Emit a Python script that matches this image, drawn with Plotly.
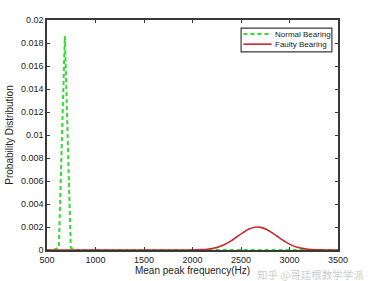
import plotly.graph_objects as go

# Sample grid (Hz) and probability densities
normal_x = [500, 561, 622, 684, 745, 806, 3500]
normal_y = [0, 0, 0.0002, 0.0186, 0.0002, 0, 0]

faulty_x = [500, 1908, 1969, 2031, 2092, 2153, 2214, 2276, 2337, 2398, 2459, 2520,
            2582, 2643, 2704, 2765, 2827, 2888, 2949, 3010, 3071, 3133, 3194, 3255,
            3316, 3378, 3439, 3500]
faulty_y = [0, 0.000001, 0.000004, 0.000012, 0.00003, 0.00007, 0.00015, 0.00029, 0.0005,
            0.00079, 0.00115, 0.00151, 0.00182, 0.00198, 0.00197, 0.00179, 0.00147,
            0.0011, 0.00076, 0.00047, 0.00027, 0.00014, 0.000065, 0.000028, 0.000011,
            0.000004, 0.000001, 0]

x_ticks = [500, 1000, 1500, 2000, 2500, 3000, 3500]
y_ticks = [0, 0.002, 0.004, 0.006, 0.008, 0.01, 0.012, 0.014, 0.016, 0.018, 0.02]
y_ticktext = ["0", "0.002", "0.004", "0.006", "0.008", "0.01", "0.012", "0.014", "0.016", "0.018", "0.02"]

series_names = ["Normal Bearing", "Faulty Bearing"]
green = "#2fdc2f"
red = "#c8282a"

font_family = "Liberation Sans, Arial, sans-serif"
frame = "#3a3a3a"
green_dash = "4px,3px"

fig = go.Figure()
fig.add_trace(go.Scatter(x=normal_x, y=normal_y, mode="lines", name=series_names[0],
                         line=dict(color=green, width=2, dash=green_dash)))
fig.add_trace(go.Scatter(x=faulty_x, y=faulty_y, mode="lines", name=series_names[1],
                         line=dict(color=red, width=1.6, shape="spline")))

axis_common = dict(showgrid=False, zeroline=False, showline=True, linecolor=frame, linewidth=1.5,
                   mirror="ticks", ticks="inside", ticklen=3, tickcolor=frame, tickwidth=1,
                   automargin=False,
                   tickfont=dict(family=font_family, size=9, color="#222"))

fig.update_xaxes(range=[500, 3500], tickvals=x_ticks,
                 title=dict(text="Mean peak frequency(Hz)", font=dict(family=font_family, size=10, color="#222"),
                            standoff=1),
                 **axis_common)
fig.update_yaxes(range=[0, 0.02], tickvals=y_ticks, ticktext=y_ticktext,
                 title=dict(text="Probability Distribution", font=dict(family=font_family, size=10, color="#222"),
                            standoff=5),
                 **axis_common)

# Manual compact legend (MATLAB style)
lx0, lx1, ly0, ly1 = 0.667, 0.979, 0.861, 0.965
shapes = [dict(type="rect", xref="paper", yref="paper", x0=lx0, x1=lx1, y0=ly0, y1=ly1,
               line=dict(color=frame, width=1.2), fillcolor="white", layer="above")]
rows = [(0.939, green, green_dash, 2), (0.895, red, "solid", 1.6)]
annotations = []
for (yy, col, dsh, w), name in zip(rows, series_names):
    shapes.append(dict(type="line", xref="paper", yref="paper", x0=0.675, x1=0.772, y0=yy, y1=yy,
                       line=dict(color=col, width=w, dash=dsh), layer="above"))
    annotations.append(dict(text=name, x=0.775, y=yy, xref="paper", yref="paper",
                            xanchor="left", yanchor="middle", showarrow=False,
                            font=dict(family=font_family, size=8, color="#222")))

annotations.append(dict(text="知乎 @哥廷根数学学派", x=1.095, y=-0.065, xref="paper", yref="paper",
                        xanchor="right", yanchor="top", showarrow=False,
                        font=dict(family="Noto Sans CJK SC", size=10.5, color="rgba(185,185,185,0.75)")))

fig.update_layout(
    width=375, height=281,
    margin=dict(l=47, r=37, t=20, b=31),
    paper_bgcolor="white", plot_bgcolor="white",
    showlegend=False,
    shapes=shapes,
    annotations=annotations,
)

fig.write_html("out.html")
